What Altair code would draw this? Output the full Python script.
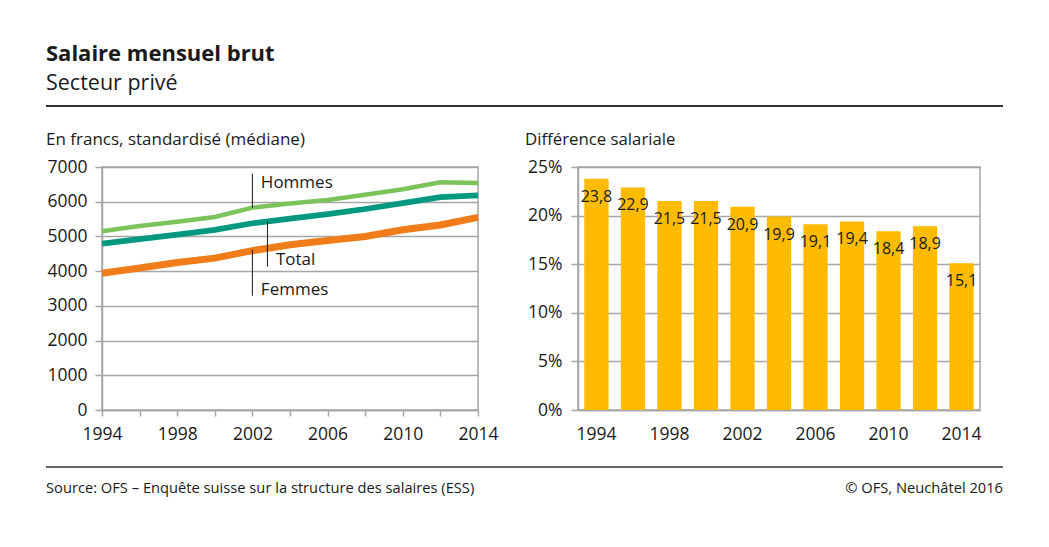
import altair as alt
import pandas as pd

FONT = "Open Sans"
INK = "#1a1a1a"
GREY = "#a6a6a6"

years = [1994, 1996, 1998, 2000, 2002, 2004, 2006, 2008, 2010, 2012, 2014]
hommes = [5150, 5300, 5420, 5560, 5830, 5950, 6050, 6200, 6360, 6560, 6540]
total = [4790, 4920, 5050, 5190, 5380, 5510, 5640, 5790, 5960, 6130, 6180]
femmes = [3940, 4090, 4250, 4375, 4590, 4760, 4880, 5000, 5190, 5330, 5550]
gap = [23.8, 22.9, 21.5, 21.5, 20.9, 19.9, 19.1, 19.4, 18.4, 18.9, 15.1]

series_names = ["Hommes", "Total", "Femmes"]
series_colors = ["#7dc35b", "#00997f", "#f07d19"]
series_widths = [4.5, 7, 4.5]

ann_x = [2002, 2002.8, 2002]
ann_y1 = [6810, 5430, 4620]
ann_y2 = [5820, 4130, 3290]
lbl_x = [2002.45, 2003.25, 2002.45]
lbl_y = [6540, 4330, 3460]

y_ticks = [0, 1000, 2000, 3000, 4000, 5000, 6000, 7000]
pct_ticks = [0, 5, 10, 15, 20, 25]

title = "Salaire mensuel brut"
subtitle = "Secteur privé"
left_title = "En francs, standardisé (médiane)"
right_title = "Différence salariale"
source = "Source: OFS – Enquête suisse sur la structure des salaires (ESS)"
copyright = "© OFS, Neuchâtel 2016"

rows = []
for name, vals in zip(series_names, [hommes, total, femmes]):
    for y, v in zip(years, vals):
        rows.append({"year": y, "value": v, "series": name})
lines_df = pd.DataFrame(rows)
ann_df = pd.DataFrame({"series": series_names, "x": ann_x, "y1": ann_y1, "y2": ann_y2,
                       "lx": lbl_x, "ly": lbl_y})
gap_df = pd.DataFrame({"year": years, "pct": gap})

x_scale = alt.Scale(domain=[1994, 2014], nice=False, zero=False)
y_scale = alt.Scale(domain=[0, 7000], nice=False)
x_axis = alt.Axis(values=years, format="d", title=None, grid=False,
                  labelExpr="datum.value % 4 == 2 ? datum.label : ''",
                  tickSize=6, labelPadding=9, labelOverlap=False, labelFlush=False)
y_axis = alt.Axis(values=y_ticks, title=None, tickSize=7, labelPadding=8,
                  format="d", labelOverlap=False, tickCount=8)

lines = alt.Chart(lines_df).mark_line().encode(
    x=alt.X("year:Q", scale=x_scale, axis=x_axis),
    y=alt.Y("value:Q", scale=y_scale, axis=y_axis),
    color=alt.Color("series:N", scale=alt.Scale(domain=series_names, range=series_colors), legend=None),
    strokeWidth=alt.StrokeWidth("series:N", scale=alt.Scale(domain=series_names, range=series_widths), legend=None),
    detail="series:N",
)

ann_rules = alt.Chart(ann_df).mark_rule(color=INK, strokeWidth=1).encode(
    x=alt.X("x:Q", scale=x_scale, axis=x_axis),
    y=alt.Y("y1:Q", scale=y_scale, axis=y_axis),
    y2="y2:Q")
ann_text = alt.Chart(ann_df).mark_text(align="left", baseline="middle", font=FONT,
                                        fontSize=17, color=INK).encode(
    x=alt.X("lx:Q", scale=x_scale, axis=x_axis),
    y=alt.Y("ly:Q", scale=y_scale, axis=y_axis),
    text="series:N")


def txt(s, x, y, size, weight="normal", align="left"):
    return alt.Chart(pd.DataFrame({"t": [s]})).mark_text(
        align=align, baseline="alphabetic", font=FONT, fontSize=size,
        fontWeight=weight, color=INK).encode(
        x=alt.value(x), y=alt.value(y), text="t:N")


def hrule(y, w):
    return alt.Chart(pd.DataFrame({"a": [0]})).mark_rule(color="#333333", strokeWidth=w).encode(
        x=alt.value(-56), x2=alt.value(901), y=alt.value(y))


left = alt.layer(
    lines, ann_rules, ann_text,
    txt(title, -56, -106, 22, "bold"),
    txt(subtitle, -56, -77, 21.5),
    hrule(-61, 2),
    txt(left_title, -56, -22, 17),
    txt(right_title, 423, -22, 16.8),
    hrule(300, 1.5),
    txt(source, -56, 326, 14.7),
    txt(copyright, 901, 326, 14.7, align="right"),
).properties(width=376, height=243)

bars = alt.Chart(gap_df).mark_bar(color="#ffbb00").encode(
    x=alt.X("year:O", scale=alt.Scale(paddingInner=0.334, paddingOuter=0.172),
            axis=alt.Axis(title=None, labelAngle=0, ticks=False, grid=False,
                          labelExpr="datum.value % 4 == 2 ? datum.label : ''",
                          labelPadding=15, labelOverlap=False)),
    y=alt.Y("pct:Q", scale=alt.Scale(domain=[0, 25], nice=False),
            axis=alt.Axis(values=pct_ticks, title=None, tickSize=7,
                          labelPadding=9, labelExpr="datum.value + '%'", labelOverlap=False)),
)
bar_labels = alt.Chart(gap_df).transform_calculate(
    lab="replace(format(datum.pct, '.1f'), '.', ',')"
).mark_text(baseline="middle", dy=18, font=FONT, fontSize=16, color=INK).encode(
    x="year:O", y="pct:Q", text="lab:N")

right = alt.layer(bars, bar_labels).properties(width=402, height=243)

chart = alt.hconcat(left, right, spacing=100, bounds="flush").properties(
    padding={"left": 36, "top": 34, "right": 10, "bottom": 10},
    background="white",
).configure_view(stroke=GREY, strokeWidth=1.5).configure_axis(
    labelFont=FONT, labelFontSize=17.5, labelColor=INK,
    domainColor=GREY, domainWidth=1.5, tickColor=GREY, tickWidth=1.5,
    gridColor=GREY, gridWidth=1.5,
)

chart.save("out.html", embed_options={"renderer": "svg", "actions": False})
